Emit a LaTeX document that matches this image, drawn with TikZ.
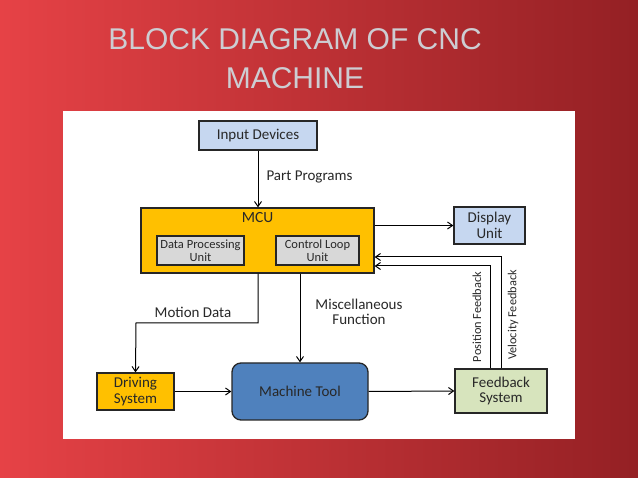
\documentclass[tikz,border=0pt]{standalone}
\usepackage{fontspec}
\setmainfont{Carlito}
\newfontfamily\titlefont{Liberation Sans}
\usetikzlibrary{arrows.meta,shadings}
\definecolor{bgL}{RGB}{230,66,70}
\definecolor{bgR}{RGB}{148,32,36}
\definecolor{lblue}{RGB}{198,215,240}
\definecolor{mcuY}{RGB}{255,192,0}
\definecolor{lgray}{RGB}{216,216,216}
\definecolor{lgreen}{RGB}{215,228,189}
\definecolor{mblue}{RGB}{79,129,189}
\definecolor{txt}{RGB}{40,40,40}
\definecolor{ttl}{RGB}{205,205,210}
\tikzset{
  blk/.style={draw=black!85, line width=1.3pt, inner sep=0pt, align=center, font=\fontsize{15}{15.5}\selectfont, text=txt},
  sub/.style={draw=black!85, line width=1.1pt, inner sep=0pt, align=center, fill=lgray, font=\fontsize{12.5}{13}\selectfont, text=txt},
  conn/.style={draw=black, line width=1pt, -{Straight Barb[length=5pt,width=7pt]}},
  lbl/.style={font=\fontsize{15}{15.5}\selectfont, text=txt, align=center},
  vlbl/.style={font=\fontsize{12.3}{13}\selectfont, text=txt, rotate=90},
  ttlstyle/.style={font=\titlefont\fontsize{30}{36}\selectfont}
}
\begin{document}
\begin{tikzpicture}[x=1pt,y=-1pt]
\useasboundingbox (0,0) rectangle (638,478);
\shade[left color=bgL, right color=bgR] (0,0) rectangle (638,478);
% title
\node[ttlstyle, text=ttl] (t1) at (295,39) {BLOCK DIAGRAM OF CNC};
\node[ttlstyle, text=ttl] (t2) at (295,78) {MACHINE};
% white panel
\fill[white] (63,111) rectangle (575,439);
% blocks
\node[blk, fill=lblue, minimum width=118pt, minimum height=29pt] (inp) at (258,135.5) {Input Devices};
\node[blk, fill=mcuY, minimum width=233pt, minimum height=65pt] (mcu) at (257.5,240.5) {};
\node[lbl, font=\fontsize{15.5}{16}\selectfont] (mcut) at (257.5,218) {MCU};
\node[sub, minimum width=87pt, minimum height=29pt] (dpu) at (200.5,250.5) {Data Processing\\Unit};
\node[sub, minimum width=83pt, minimum height=29pt] (clu) at (317.5,250.5) {Control Loop\\Unit};
\node[blk, fill=lblue, minimum width=71pt, minimum height=37pt] (disp) at (489.5,225.5) {Display\\Unit};
\node[blk, fill=mcuY, minimum width=77pt, minimum height=37pt] (drv) at (135.5,391.5) {Driving\\System};
\node[blk, fill=mblue, rounded corners=9pt, minimum width=136pt, minimum height=57pt] (mt) at (300,391.5) {Machine Tool};
\node[blk, fill=lgreen, minimum width=92pt, minimum height=44pt] (fb) at (501,391) {Feedback\\System};
% coordinates
\coordinate (pm) at (258,323);
\coordinate (pd) at (136,323);
\coordinate (fv) at (501,257);
\coordinate (fp) at (490,266);
% connectors
\draw[conn] (inp.south) -- (mcu.north -| inp.south);
\node[lbl, anchor=west] (pp) at (263,177) {Part Programs};
\draw[conn] (mcu.east |- disp.west) -- (disp.west);
\draw[conn] (mcu.south -| pm) -- (pm) -- (pd) -- (drv.north);
\node[lbl] (md) at (193,312) {Motion Data};
\draw[conn] (mcu.south -| mt.north) -- (mt.north);
\node[lbl] (mf) at (359,312) {Miscellaneous\\Function};
\draw[conn] (drv.east) -- (mt.west);
\draw[conn] (mt.east) -- (fb.west);
\draw[conn] (fb.north -| fv) -- (fv) -- (mcu.east |- fv);
\draw[conn] (fb.north -| fp) -- (fp) -- (mcu.east |- fp);
\node[vlbl] (pf) at (477,317) {Position Feedback};
\node[vlbl] (vf) at (513,315) {Velocity Feedback};
\end{tikzpicture}
\end{document}
